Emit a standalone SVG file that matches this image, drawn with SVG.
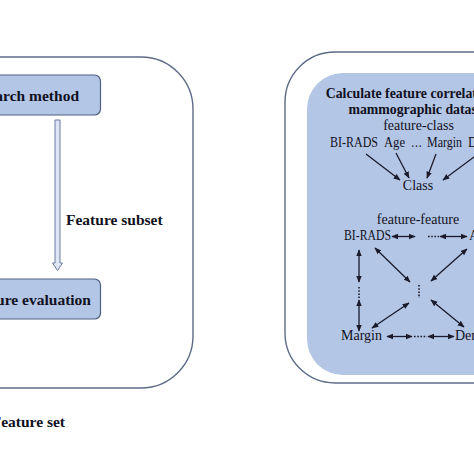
<svg xmlns="http://www.w3.org/2000/svg" width="474" height="474" viewBox="0 0 474 474">
<defs>
<style>
.outer{fill:#ffffff;stroke:#5d6b88;stroke-width:1.4}
.box{fill:#b4c6e6;stroke:#4f5f80;stroke-width:1.2}
.inner{fill:#b4c6e6;stroke:none}
.b{font-family:"Liberation Serif","Times New Roman",serif;font-weight:bold;fill:#111122}
.r{font-family:"Liberation Serif","Times New Roman",serif;font-size:14px;fill:#111122}
.ln{stroke:#1a1a2a;stroke-width:1.3;fill:none}
.dot{stroke:#1a1a2a;stroke-width:1.6;fill:none;stroke-dasharray:1.6 1.6}
</style>
<marker id="ah" viewBox="0 0 10 10" refX="9" refY="5" markerWidth="7" markerHeight="7" markerUnits="userSpaceOnUse" orient="auto-start-reverse">
<path d="M0,1 L10,5 L0,9 Z" fill="#1a1a2a"/>
</marker>
</defs>
<rect width="474" height="474" fill="#ffffff"/>

<g id="left-panel">
<rect class="outer" x="-60" y="57" width="253" height="331" rx="52" ry="52"/>
</g>
<g id="search-method">
<rect class="box" x="-20" y="75" width="120.5" height="40" rx="6" ry="6"/>
<text class="b" font-size="15.5" x="79" y="101" text-anchor="end">Search method</text>
</g>
<g id="feature-evaluation">
<rect class="box" x="-20" y="279" width="120.5" height="40" rx="6" ry="6"/>
<text class="b" font-size="15.5" x="91" y="305" text-anchor="end">Feature evaluation</text>
</g>
<g id="feature-set-label">
<text class="b" font-size="15.5" x="65" y="427" text-anchor="end">Feature set</text>
</g>

<g id="right-panel">
<rect class="outer" x="285" y="52" width="260" height="331" rx="50" ry="50"/>
<rect class="inner" x="307" y="73" width="222" height="302" rx="36" ry="36"/>
<text class="b" font-size="13.8" x="418" y="97.5" text-anchor="middle">Calculate feature correlation in</text>
<text class="b" font-size="13.8" x="418" y="113.5" text-anchor="middle">mammographic dataset</text>
</g>

<g id="feature-class">
<text class="r" x="418.5" y="130" text-anchor="middle">feature-class</text>
<text class="r" x="330" y="147" textLength="48" lengthAdjust="spacingAndGlyphs">BI-RADS</text>
<text class="r" x="384" y="147" textLength="21" lengthAdjust="spacingAndGlyphs">Age</text>
<text class="r" x="411" y="147" textLength="11" lengthAdjust="spacingAndGlyphs">…</text>
<text class="r" x="427" y="147" textLength="35" lengthAdjust="spacingAndGlyphs">Margin</text>
<text class="r" x="468" y="147" textLength="40" lengthAdjust="spacingAndGlyphs">Density</text>
<text class="r" x="418" y="190" text-anchor="middle">Class</text>
</g>

<g id="feature-feature">
<text class="r" x="418" y="224" text-anchor="middle">feature-feature</text>
<text class="r" x="344" y="240" textLength="47" lengthAdjust="spacingAndGlyphs">BI-RADS</text>
<text class="r" x="469" y="240">Age</text>
<text class="r" x="341" y="340">Margin</text>
<text class="r" x="455" y="340">Density</text>
</g>

<g id="connectors">
<path d="M55,120 L60,120 L60,263 L62.5,263 L57.5,270.5 L52.5,263 L55,263 Z" fill="#dfe6f3" stroke="#6b7ba0" stroke-width="1"/>
<text class="b" font-size="15.5" x="66" y="225">Feature subset</text>

<line class="ln" x1="366" y1="154" x2="400" y2="180" marker-end="url(#ah)"/>
<line class="ln" x1="396" y1="153" x2="409" y2="178" marker-end="url(#ah)"/>
<line class="ln" x1="436" y1="154" x2="427" y2="178" marker-end="url(#ah)"/>
<line class="ln" x1="478" y1="154" x2="443" y2="180" marker-end="url(#ah)"/>

<line class="ln" x1="392" y1="236.5" x2="415" y2="236.5" marker-start="url(#ah)" marker-end="url(#ah)"/>
<line class="dot" x1="428" y1="236.5" x2="439" y2="236.5"/>
<line class="ln" x1="440" y1="236.5" x2="467" y2="236.5" marker-start="url(#ah)" marker-end="url(#ah)"/>

<line class="ln" x1="359" y1="250" x2="359" y2="282" marker-start="url(#ah)" marker-end="url(#ah)"/>
<line class="dot" x1="359" y1="287" x2="359" y2="298"/>
<line class="ln" x1="359" y1="300" x2="359" y2="331" marker-start="url(#ah)" marker-end="url(#ah)"/>

<line class="ln" x1="375" y1="248" x2="410" y2="282" marker-start="url(#ah)" marker-end="url(#ah)"/>
<line class="ln" x1="467" y1="249" x2="431" y2="281" marker-start="url(#ah)" marker-end="url(#ah)"/>
<line class="dot" x1="419" y1="285" x2="419" y2="298"/>
<line class="ln" x1="409" y1="303" x2="372" y2="328" marker-start="url(#ah)" marker-end="url(#ah)"/>
<line class="ln" x1="431" y1="300" x2="464" y2="327" marker-start="url(#ah)" marker-end="url(#ah)"/>

<line class="ln" x1="387" y1="336.5" x2="412" y2="336.5" marker-start="url(#ah)" marker-end="url(#ah)"/>
<line class="dot" x1="414" y1="336.5" x2="427" y2="336.5"/>
<line class="ln" x1="428" y1="336.5" x2="454" y2="336.5" marker-start="url(#ah)" marker-end="url(#ah)"/>
</g>
</svg>
